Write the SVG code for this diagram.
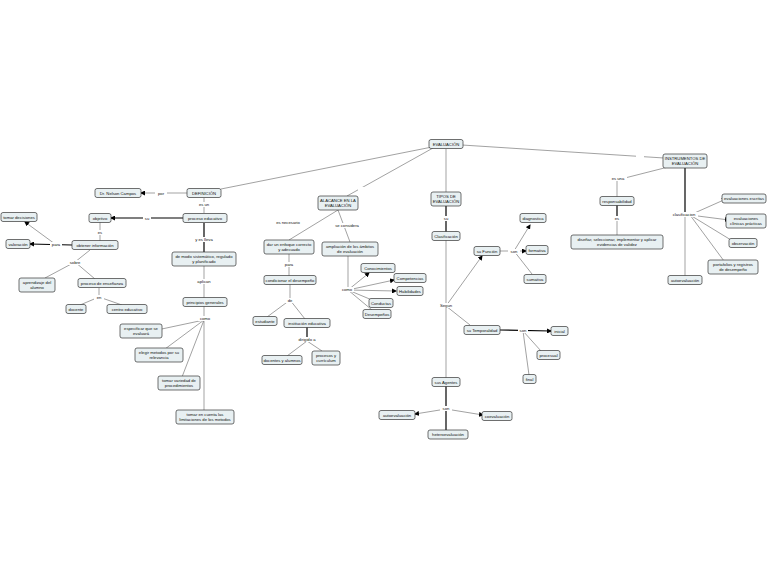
<svg xmlns="http://www.w3.org/2000/svg" width="768" height="578" viewBox="0 0 768 578">
<defs>
<style>
.n rect{fill:#e8f0f2;stroke:#333;stroke-width:0.7}
text{font-family:"Liberation Sans",Arial,sans-serif;font-size:4.2px;fill:#111;text-anchor:middle}
.c line,.c path{stroke:#444;stroke-width:0.5;fill:none}
.c .b{stroke:#000;stroke-width:1.2}
.l{font-size:3.8px}
</style>
<marker id="a" markerWidth="5" markerHeight="5" refX="4" refY="2.5" orient="auto" markerUnits="userSpaceOnUse"><path d="M0,0L5,2.5L0,5z" fill="#000"/></marker>
</defs>
<rect width="768" height="578" fill="#fff"/>
<g class="c">
<line x1="432" y1="147" x2="221" y2="189"/>
<line x1="433" y1="148" x2="347" y2="196"/>
<line x1="446" y1="149" x2="446" y2="192"/>
<line x1="462" y1="145" x2="664" y2="158"/>
<line x1="187" y1="193" x2="141" y2="193" marker-end="url(#a)"/>
<line x1="204" y1="198" x2="204" y2="213"/>
<line x1="183" y1="218" x2="111" y2="218" class="b" marker-end="url(#a)"/>
<line x1="100" y1="222" x2="100" y2="241"/>
<line x1="72" y1="245" x2="30" y2="244" class="b" marker-end="url(#a)"/>
<line x1="55" y1="244" x2="25" y2="222" marker-end="url(#a)"/>
<line x1="90" y1="250" x2="75" y2="262"/><line x1="75" y1="262" x2="45" y2="278"/><line x1="75" y1="262" x2="95" y2="279"/>
<line x1="99" y1="288" x2="99" y2="297"/><line x1="99" y1="297" x2="80" y2="305"/><line x1="99" y1="297" x2="122" y2="305"/>
<line x1="204" y1="223" x2="204" y2="252" class="b"/>
<line x1="204" y1="266" x2="204" y2="298"/>
<line x1="204" y1="306" x2="204" y2="410"/>
<line x1="204" y1="320" x2="157" y2="330" marker-end="url(#a)"/>
<line x1="204" y1="320" x2="165" y2="349"/>
<line x1="204" y1="320" x2="182" y2="377"/>
<line x1="338" y1="210" x2="289" y2="240"/>
<line x1="338" y1="210" x2="350" y2="242"/>
<line x1="289" y1="254" x2="289" y2="276"/>
<line x1="290" y1="284" x2="290" y2="300"/><line x1="290" y1="300" x2="267" y2="317"/><line x1="290" y1="300" x2="305" y2="319"/>
<line x1="307" y1="327" x2="307" y2="339" class="b"/><line x1="307" y1="341" x2="287" y2="356"/><line x1="307" y1="341" x2="322" y2="351"/>
<line x1="348" y1="256" x2="348" y2="290"/>
<line x1="348" y1="290" x2="369" y2="273" marker-end="url(#a)"/>
<line x1="348" y1="290" x2="394" y2="280" marker-end="url(#a)"/>
<line x1="348" y1="290" x2="396" y2="291" marker-end="url(#a)"/>
<line x1="348" y1="290" x2="372" y2="300"/>
<line x1="348" y1="290" x2="372" y2="310"/>
<line x1="446" y1="206" x2="446" y2="232" class="b"/>
<line x1="446" y1="240" x2="446" y2="378"/>
<line x1="446" y1="306" x2="482" y2="256" marker-end="url(#a)"/>
<line x1="446" y1="306" x2="470" y2="325"/>
<line x1="500" y1="251" x2="526" y2="251" marker-end="url(#a)"/>
<line x1="514" y1="251" x2="530" y2="225" marker-end="url(#a)"/>
<line x1="514" y1="251" x2="532" y2="274"/>
<line x1="500" y1="330" x2="551" y2="331" class="b" marker-end="url(#a)"/>
<line x1="523" y1="331" x2="541" y2="351"/>
<line x1="523" y1="331" x2="529" y2="375"/>
<line x1="446" y1="386" x2="446" y2="430" class="b"/>
<line x1="446" y1="409" x2="415" y2="414" marker-end="url(#a)"/>
<line x1="446" y1="409" x2="483" y2="415" marker-end="url(#a)"/>
<line x1="680" y1="164" x2="617" y2="180"/><line x1="617" y1="180" x2="617" y2="197"/>
<line x1="617" y1="205" x2="617" y2="218" class="b"/><line x1="617" y1="218" x2="617" y2="235"/>
<line x1="685" y1="168" x2="685" y2="213" class="b"/><line x1="685" y1="217" x2="685" y2="276"/>
<line x1="690" y1="215" x2="726" y2="199" marker-end="url(#a)"/>
<line x1="690" y1="215" x2="729" y2="220" marker-end="url(#a)"/>
<line x1="690" y1="215" x2="731" y2="240"/>
<line x1="690" y1="215" x2="724" y2="261"/>
</g>
<g fill="#fff">
<rect x="155" y="191" width="12" height="5"/><rect x="196" y="202" width="16" height="5"/><rect x="143" y="216" width="8" height="5"/>
<rect x="95" y="230" width="10" height="5"/><rect x="50" y="242" width="12" height="5"/><rect x="68" y="260" width="14" height="5"/>
<rect x="94" y="295" width="10" height="5"/><rect x="194" y="237" width="20" height="5"/><rect x="196" y="279" width="16" height="5"/>
<rect x="198" y="316" width="14" height="5"/><rect x="272" y="220" width="32" height="5"/><rect x="332" y="223" width="30" height="5"/>
<rect x="282" y="262" width="14" height="5"/><rect x="285" y="298" width="10" height="5"/><rect x="298" y="337" width="18" height="5"/>
<rect x="340" y="287" width="14" height="5"/><rect x="440" y="216" width="12" height="5"/><rect x="438" y="303" width="16" height="5"/>
<rect x="508" y="249" width="12" height="5"/><rect x="518" y="328" width="10" height="5"/><rect x="440" y="406" width="12" height="5"/>
<rect x="609" y="176" width="18" height="5"/><rect x="612" y="216" width="10" height="5"/><rect x="670" y="212" width="28" height="5"/>
<rect x="358" y="187" width="10" height="5"/><rect x="636" y="154" width="8" height="5"/>
</g>
<g class="l">
<text x="161" y="195">por</text><text x="204" y="206">es un</text><text x="147" y="220">su</text>
<text x="100" y="234">es</text><text x="56" y="246">para</text><text x="75" y="264">sobre</text><text x="99" y="299">en</text>
<text x="204" y="241">y es lleva</text><text x="204" y="283">aplican</text><text x="205" y="320">como</text>
<text x="288" y="224">es necesario</text><text x="347" y="227">se considera</text><text x="289" y="266">para</text>
<text x="290" y="302">de</text><text x="307" y="341">dirigido a</text><text x="347" y="291">como</text>
<text x="446" y="220">su</text><text x="446" y="307">Segun</text><text x="514" y="253">son</text><text x="523" y="332">son</text>
<text x="446" y="410">son</text><text x="618" y="180">es una</text><text x="617" y="220">es</text><text x="684" y="216">clasificacion</text>
</g>
<g id="evaluacion" class="n"><rect x="429" y="139.5" width="34" height="9" rx="2"/><text x="446" y="145.5">EVALUACIÓN</text></g>
<g id="definicion" class="n"><rect x="187" y="188.5" width="34" height="9" rx="2"/><text x="204" y="194.5">DEFINICIÓN</text></g>
<g id="nelson" class="n"><rect x="95" y="188.5" width="46" height="9" rx="2"/><text x="118" y="194.5">Dr. Nelson Campos</text></g>
<g id="proceso" class="n"><rect x="183" y="213.5" width="44" height="9" rx="2"/><text x="205" y="219.5">proceso educativo</text></g>
<g id="objetivo" class="n"><rect x="89" y="213.5" width="22" height="9" rx="2"/><text x="100" y="219.5">objetivo</text></g>
<g id="obtener" class="n"><rect x="72" y="240.5" width="46" height="9" rx="2"/><text x="95" y="246.5">obtener información</text></g>
<g id="tomar" class="n"><rect x="1" y="212.5" width="36" height="9" rx="2"/><text x="19" y="218.5">tomar decisiones</text></g>
<g id="valoracion" class="n"><rect x="6" y="239.5" width="24" height="9" rx="2"/><text x="18" y="245.5">valoración</text></g>
<g id="aprendizaje" class="n"><rect x="19" y="278" width="36" height="14" rx="2"/><text x="37" y="284">aprendizaje del</text><text x="37" y="289">alumno</text></g>
<g id="ensenanza" class="n"><rect x="78" y="278.5" width="48" height="9" rx="2"/><text x="102" y="284.5">proceso de enseñanza</text></g>
<g id="docente" class="n"><rect x="66" y="304.5" width="20" height="9" rx="2"/><text x="76" y="310.5">docente</text></g>
<g id="centro" class="n"><rect x="107" y="304.5" width="40" height="9" rx="2"/><text x="127" y="310.5">centro educativo</text></g>
<g id="modo" class="n"><rect x="172" y="252" width="64" height="14" rx="2"/><text x="204" y="258">de modo sistemático, regulado</text><text x="204" y="263">y planificado</text></g>
<g id="principios" class="n"><rect x="183" y="297.5" width="44" height="9" rx="2"/><text x="205" y="303.5">principios generales</text></g>
<g id="especificar" class="n"><rect x="120" y="324" width="42" height="14" rx="2"/><text x="141" y="330">especificar que se</text><text x="141" y="335">evaluará</text></g>
<g id="elegir" class="n"><rect x="135" y="348" width="48" height="14" rx="2"/><text x="159" y="354">elegir metodos por su</text><text x="159" y="359">relevancia</text></g>
<g id="variedad" class="n"><rect x="158" y="376" width="42" height="14" rx="2"/><text x="179" y="382">tomar variedad de</text><text x="179" y="387">procedimientos</text></g>
<g id="limitaciones" class="n"><rect x="176" y="410" width="58" height="14" rx="2"/><text x="205" y="416">tomar en cuenta las</text><text x="205" y="421">limitaciones de los metodos</text></g>
<g id="alcance" class="n"><rect x="318" y="196" width="40" height="14" rx="2"/><text x="338" y="202">ALACANCE EN LA</text><text x="338" y="207">EVALUACIÓN</text></g>
<g id="enfoque" class="n"><rect x="264" y="240" width="50" height="14" rx="2"/><text x="289" y="246">dar un enfoque correcto</text><text x="289" y="251">y adecuado</text></g>
<g id="condicionar" class="n"><rect x="264" y="275.5" width="52" height="9" rx="2"/><text x="290" y="281.5">condicionar el desempeño</text></g>
<g id="estudiante" class="n"><rect x="253" y="316.5" width="24" height="9" rx="2"/><text x="265" y="322.5">estudiante</text></g>
<g id="institucion" class="n"><rect x="284" y="318.5" width="46" height="9" rx="2"/><text x="307" y="324.5">institución educativa</text></g>
<g id="docalum" class="n"><rect x="262" y="355.5" width="40" height="9" rx="2"/><text x="282" y="361.5">docentes y alumnos</text></g>
<g id="procesos" class="n"><rect x="312" y="351" width="28" height="14" rx="2"/><text x="326" y="357">procesos y</text><text x="326" y="362">currículum</text></g>
<g id="ampliacion" class="n"><rect x="322" y="242" width="56" height="14" rx="2"/><text x="350" y="248">ampliación de los ámbitos</text><text x="350" y="253">de evaluación</text></g>
<g id="conocimientos" class="n"><rect x="361" y="263.5" width="34" height="9" rx="2"/><text x="378" y="269.5">Conocimientos</text></g>
<g id="competencias" class="n"><rect x="394" y="273.5" width="32" height="9" rx="2"/><text x="410" y="279.5">Competencias</text></g>
<g id="habilidades" class="n"><rect x="397" y="286.5" width="26" height="9" rx="2"/><text x="410" y="292.5">Habilidades</text></g>
<g id="conductas" class="n"><rect x="369" y="298.5" width="24" height="9" rx="2"/><text x="381" y="304.5">Conductas</text></g>
<g id="desempenos" class="n"><rect x="363" y="309.5" width="28" height="9" rx="2"/><text x="377" y="315.5">Desempeños</text></g>
<g id="tipos" class="n"><rect x="431" y="192" width="30" height="14" rx="2"/><text x="446" y="198">TIPOS DE</text><text x="446" y="203">EVALUACIÓN</text></g>
<g id="clasificacion" class="n"><rect x="432" y="231.5" width="28" height="9" rx="2"/><text x="446" y="237.5">Clasificación</text></g>
<g id="funcion" class="n"><rect x="474" y="246.5" width="26" height="9" rx="2"/><text x="487" y="252.5">su Función</text></g>
<g id="diagnostica" class="n"><rect x="520" y="213.5" width="26" height="9" rx="2"/><text x="533" y="219.5">diagnostica</text></g>
<g id="formativa" class="n"><rect x="526" y="245.5" width="22" height="9" rx="2"/><text x="537" y="251.5">formativa</text></g>
<g id="sumativa" class="n"><rect x="524" y="274.5" width="22" height="9" rx="2"/><text x="535" y="280.5">sumativa</text></g>
<g id="temporalidad" class="n"><rect x="464" y="325.5" width="36" height="9" rx="2"/><text x="482" y="331.5">su Temporalidad</text></g>
<g id="inicial" class="n"><rect x="551" y="326.5" width="17" height="9" rx="2"/><text x="559.5" y="332.5">inicial</text></g>
<g id="procesual" class="n"><rect x="537" y="350.5" width="23" height="9" rx="2"/><text x="548.5" y="356.5">procesual</text></g>
<g id="final" class="n"><rect x="523" y="374.5" width="13" height="9" rx="2"/><text x="529.5" y="380.5">final</text></g>
<g id="agentes" class="n"><rect x="432" y="377.5" width="28" height="9" rx="2"/><text x="446" y="383.5">sus Agentes</text></g>
<g id="autoev" class="n"><rect x="379" y="410.5" width="36" height="9" rx="2"/><text x="397" y="416.5">autoevaluación</text></g>
<g id="coev" class="n"><rect x="482" y="411.5" width="30" height="9" rx="2"/><text x="497" y="417.5">coevaluación</text></g>
<g id="heteroev" class="n"><rect x="428" y="430" width="40" height="9" rx="2"/><text x="448" y="436">heteroevaluación</text></g>
<g id="instrumentos" class="n"><rect x="663" y="154" width="44" height="14" rx="2"/><text x="685" y="160">INSTRUMENTOS DE</text><text x="685" y="165">EVALUACIÓN</text></g>
<g id="responsabilidad" class="n"><rect x="600" y="196.5" width="34" height="9" rx="2"/><text x="617" y="202.5">responsabilidad</text></g>
<g id="disenar" class="n"><rect x="571" y="235" width="92" height="14" rx="2"/><text x="617" y="241">diseñar, seleccionar, implementar y aplicar</text><text x="617" y="246">evidencias de validez</text></g>
<g id="autoev2" class="n"><rect x="668" y="275.5" width="34" height="9" rx="2"/><text x="685" y="281.5">autoevaluación</text></g>
<g id="escritas" class="n"><rect x="722" y="194" width="44" height="9" rx="2"/><text x="744" y="200">evaluaciones escritas</text></g>
<g id="clinicas" class="n"><rect x="726" y="214" width="40" height="14" rx="2"/><text x="746" y="220">evaluaciones</text><text x="746" y="225">clínicas prácticas</text></g>
<g id="observacion" class="n"><rect x="729" y="238.5" width="28" height="9" rx="2"/><text x="743" y="244.5">observación</text></g>
<g id="portafolios" class="n"><rect x="708" y="260" width="50" height="14" rx="2"/><text x="733" y="266">portafolios y registros</text><text x="733" y="271">de desempeño</text></g>
</svg>
